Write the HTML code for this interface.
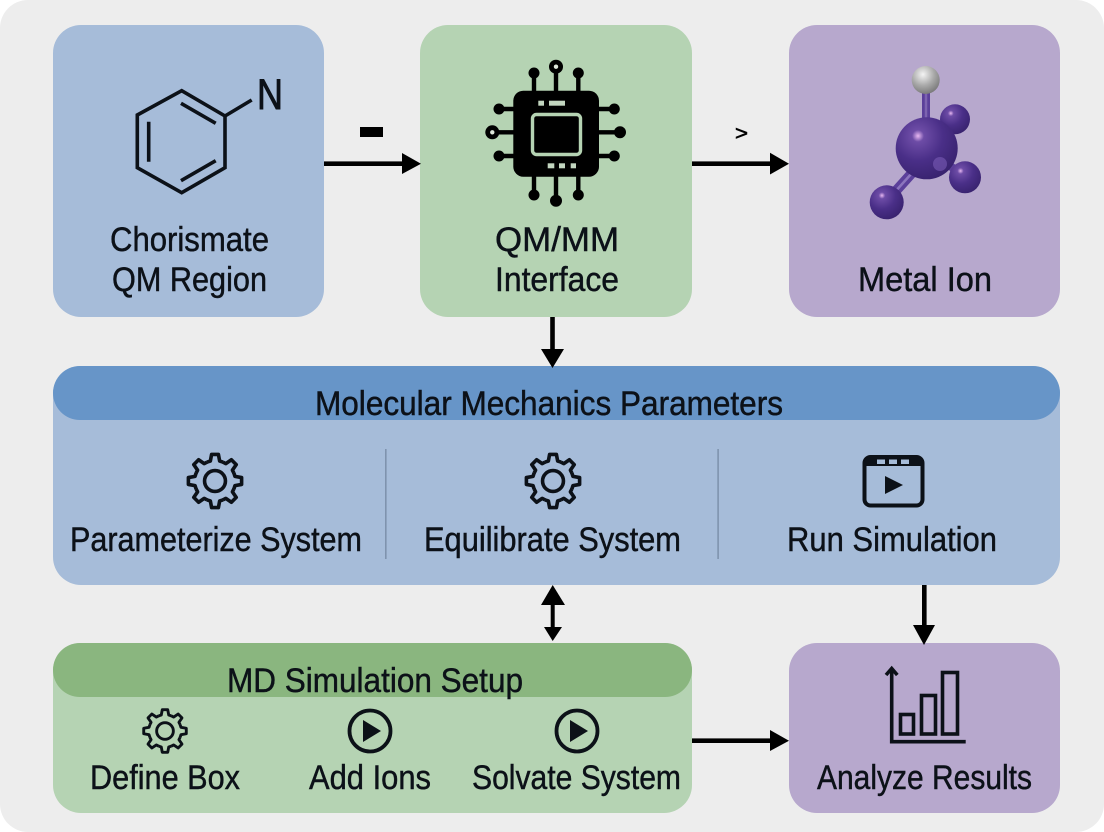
<!DOCTYPE html>
<html><head><meta charset="utf-8"><title>QM/MM Workflow</title>
<style>
html,body{margin:0;padding:0;background:#fff}
svg{display:block}
text{font-family:"Liberation Sans",sans-serif;font-size:34px;fill:#0c1118;stroke:#0c1118;stroke-width:.45px}
</style></head><body>
<svg width="1104" height="832" viewBox="0 0 1104 832" xmlns="http://www.w3.org/2000/svg">
<defs>
<radialGradient id="mainS" cx="0.36" cy="0.3" r="0.8"><stop offset="0" stop-color="#e8b9f2"/><stop offset="0.12" stop-color="#6d4ca6"/><stop offset="0.5" stop-color="#4a2f88"/><stop offset="1" stop-color="#35206a"/></radialGradient>
<radialGradient id="greyS" cx="0.4" cy="0.3" r="0.8"><stop offset="0" stop-color="#f4f4f4"/><stop offset="0.5" stop-color="#a9a9a9"/><stop offset="1" stop-color="#6d6d6d"/></radialGradient>
<g id="toothSeg"><path d="M-8.3-19.9-4.9-21-3.6-28H3.6L4.9-21 8.3-19.9" fill="none" stroke="#0c1118" stroke-width="3.8" stroke-linejoin="round"/></g>
<g id="gear">
<use href="#toothSeg"/><use href="#toothSeg" transform="rotate(45)"/><use href="#toothSeg" transform="rotate(90)"/><use href="#toothSeg" transform="rotate(135)"/><use href="#toothSeg" transform="rotate(180)"/><use href="#toothSeg" transform="rotate(225)"/><use href="#toothSeg" transform="rotate(270)"/><use href="#toothSeg" transform="rotate(315)"/>
<circle r="11" fill="none" stroke="#0c1118" stroke-width="3.8"/>
</g>
</defs>
<rect width="1104" height="832" rx="28" fill="#ededed"/>

<rect x="53" y="25" width="271" height="292" rx="28" fill="#a6bcd9"/>
<rect x="420" y="25" width="272" height="292" rx="28" fill="#b5d3b3"/>
<rect x="789" y="25" width="271" height="292" rx="28" fill="#b7a8cd"/>
<rect x="53" y="366" width="1007" height="219" rx="28" fill="#a6bcd9"/>
<rect x="53" y="366" width="1007" height="54" rx="27" fill="#6795c8"/>
<rect x="53" y="643" width="639" height="170" rx="28" fill="#b5d3b3"/>
<rect x="53" y="643" width="639" height="54" rx="27" fill="#8ab67f"/>
<rect x="789" y="643" width="271" height="170" rx="28" fill="#b7a8cd"/>

<!-- benzene -->
<g fill="none" stroke="#0c1118" stroke-width="3.6">
<path d="M181.7 90.7 225 116V167.7L181.7 192.7 137.3 167.7V115Z" stroke-linejoin="miter"/>
<path d="M181 103.3 215.7 123.3M148.7 121.7V161.7M181 180.7 215.7 160.7M225 116 251.7 100"/>
</g>
<text x="257" y="109" style="font-size:43px;stroke-width:.9px" textLength="26" lengthAdjust="spacingAndGlyphs">N</text>

<!-- chip -->
<g stroke="#000" stroke-width="4.4" fill="#000">
<path d="M534 73V91M556 67V91M578.3 73V91M534 176V195M556 176V200M578.3 176V195M499 109H514M492 132.3H514M499 156H514M599 109H614M599 132.3H620M599 156H614"/>
<g stroke="none">
<circle cx="534" cy="73" r="5.5"/><circle cx="578.3" cy="73" r="5.5"/><circle cx="556" cy="66.7" r="7"/>
<circle cx="534" cy="195" r="5.5"/><circle cx="556" cy="200.7" r="6"/><circle cx="578.3" cy="195" r="5.5"/>
<circle cx="499" cy="109" r="5.5"/><circle cx="492.3" cy="132.3" r="7"/><circle cx="499" cy="156" r="5.5"/>
<circle cx="614.3" cy="109" r="5.5"/><circle cx="620" cy="132.3" r="6"/><circle cx="614.3" cy="156" r="5.5"/>
</g>
</g>
<circle cx="556" cy="66.7" r="2.2" fill="#dfe8dc"/><circle cx="492.3" cy="132.3" r="2.2" fill="#dfe8dc"/>
<rect x="513.3" y="90.7" width="85.7" height="86" rx="10" fill="#000"/>
<rect x="532.5" y="114.5" width="48" height="40" rx="4" fill="#000" stroke="#b5d3b3" stroke-width="3.4"/>
<g fill="#c3d6c0">
<rect x="538.3" y="100.7" width="5.7" height="5"/><rect x="549" y="100.7" width="16" height="5"/>
<rect x="547.7" y="163.3" width="6.6" height="5"/><rect x="559" y="163.3" width="6" height="5"/><rect x="570.7" y="163.3" width="5.3" height="5"/>
</g>

<!-- molecule -->
<g stroke-linecap="butt">
<path d="M926 92V122" stroke="#5b3f9a" stroke-width="8"/>
<path d="M926 92V122" stroke="#7d63b0" stroke-width="2.5"/>
<path d="M894 193 912 173" stroke="#5b3f9a" stroke-width="10"/>
<path d="M894 193 912 173" stroke="#8b74bd" stroke-width="2.5"/>
<path d="M950 166 962 174" stroke="#5b3f9a" stroke-width="8"/>
</g>
<circle cx="955" cy="119.3" r="15" fill="url(#mainS)"/>
<circle cx="965" cy="177.3" r="16" fill="url(#mainS)"/>
<circle cx="886.7" cy="202.3" r="17" fill="url(#mainS)"/>
<circle cx="926.7" cy="148.3" r="31" fill="url(#mainS)"/>
<circle cx="940" cy="164" r="7" fill="#7a5bb5" opacity=".6"/>
<circle cx="925.7" cy="80" r="14" fill="url(#greyS)"/>

<!-- top labels -->
<text x="110" y="251" textLength="159" lengthAdjust="spacingAndGlyphs">Chorismate</text>
<text x="112" y="291" textLength="155" lengthAdjust="spacingAndGlyphs">QM Region</text>
<text x="495" y="251" textLength="124" lengthAdjust="spacingAndGlyphs">QM/MM</text>
<text x="495" y="291" textLength="124" lengthAdjust="spacingAndGlyphs">Interface</text>
<text x="858" y="291" textLength="134" lengthAdjust="spacingAndGlyphs">Metal Ion</text>

<!-- connectors -->
<g fill="#000" stroke="none">
<rect x="360" y="127" width="23" height="10"/>
<rect x="324" y="161.4" width="80" height="4.6"/><path d="M402 153 421 163.7 402 174Z"/>
<rect x="692" y="161.4" width="80" height="4.6"/><path d="M770 152.7 789 163.7 770 174.5Z"/>
<rect x="550.2" y="317" width="4.6" height="34"/><path d="M541 349 564 349 552.5 368Z"/>
<rect x="550.7" y="600" width="4" height="30"/><path d="M552.7 585 565 605 541 605Z"/><path d="M544 627 562 627 552.7 641Z"/>
<rect x="922" y="585" width="4.6" height="42"/><path d="M913 625 935 625 924 645Z"/>
<rect x="692" y="738.4" width="80" height="4.6"/><path d="M770 730 789 740.7 770 751Z"/>
</g>
<text x="735" y="140" style="font-size:20px;fill:#000;stroke:#000;stroke-width:.6px" textLength="13" lengthAdjust="spacingAndGlyphs">&gt;</text>

<!-- MM panel -->
<text x="315" y="415" textLength="468" lengthAdjust="spacingAndGlyphs">Molecular Mechanics Parameters</text>
<use href="#gear" transform="translate(215 481) scale(.95)"/>
<use href="#gear" transform="translate(553 481) scale(.95)"/>
<rect x="385" y="449" width="1.6" height="110" fill="#7f93ae"/>
<rect x="717.3" y="449" width="1.6" height="110" fill="#7f93ae"/>
<g>
<rect x="864.5" y="457" width="58" height="48.5" rx="6" fill="none" stroke="#0c1118" stroke-width="4"/>
<path d="M864 466V462.5a6 6 0 0 1 6-6H917a6 6 0 0 1 6 6V466H864Z" fill="#0c1118"/>
<g fill="#a6bcd9"><rect x="877" y="459.5" width="8" height="4.5"/><rect x="889" y="459.5" width="8" height="4.5"/><rect x="901" y="459.5" width="8" height="4.5"/></g>
<path d="M885 476 903 485 885 494Z" fill="#0c1118"/>
</g>
<text x="70" y="551" textLength="292" lengthAdjust="spacingAndGlyphs">Parameterize System</text>
<text x="424" y="551" textLength="257" lengthAdjust="spacingAndGlyphs">Equilibrate System</text>
<text x="787" y="551" textLength="210" lengthAdjust="spacingAndGlyphs">Run Simulation</text>

<!-- MD panel -->
<text x="227" y="692" textLength="296" lengthAdjust="spacingAndGlyphs">MD Simulation Setup</text>
<use href="#gear" transform="translate(165 731) scale(.76)"/>
<g fill="none" stroke="#0c1118" stroke-width="3.8"><circle cx="370" cy="731" r="20.5"/><circle cx="577" cy="731" r="20.5"/></g>
<path d="M363 720 381 731 363 742Z" fill="#0c1118"/>
<path d="M570 720 588 731 570 742Z" fill="#0c1118"/>
<text x="90" y="789" textLength="150" lengthAdjust="spacingAndGlyphs">Define Box</text>
<text x="309" y="789" textLength="122" lengthAdjust="spacingAndGlyphs">Add Ions</text>
<text x="472" y="789" textLength="209" lengthAdjust="spacingAndGlyphs">Solvate System</text>

<!-- results -->
<g fill="none" stroke="#0c1118" stroke-width="3.6">
<path d="M891.7 670V741.7H965.7"/>
<path d="M886 675 891.7 668.5 897.3 675"/>
<rect x="900.5" y="714.5" width="13" height="19.5"/>
<rect x="921.5" y="695.5" width="14" height="38.5"/>
<rect x="942.5" y="672.5" width="15" height="61.5"/>
</g>
<text x="817" y="789" textLength="215" lengthAdjust="spacingAndGlyphs">Analyze Results</text>
</svg>
</body></html>
